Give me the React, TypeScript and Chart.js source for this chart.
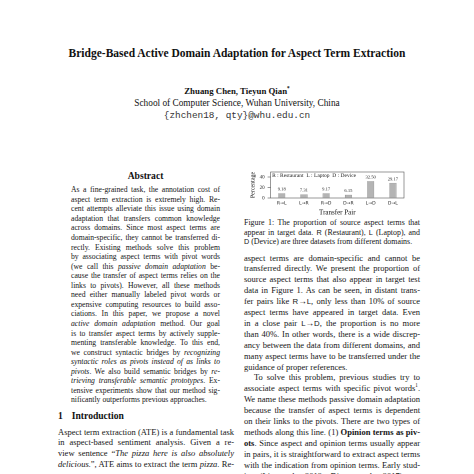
import Chart from 'chart.js/auto'
import React, { useEffect, useRef } from 'react'

// chart data (Figure 1)
const transferPairs = ['R→L', 'L→R', 'R→D', 'D→R', 'L→D', 'D→L']
const percentages = [9.18, 7.31, 9.17, 6.15, 32.5, 29.17]
const valueLabels = ['9.18', '7.31', '9.17', '6.15', '32.50', '29.17']
const yTicks = [0, 20, 40]
const yMax = 50
const legendNote = 'R : Restaurant  L : Laptop  D : Device'

const sf = (s: string) => `<span style="font-family:'Liberation Sans';font-size:0.92em">${s}</span>`

const abstractLines = [
  'As a fine-grained task, the annotation cost of',
  'aspect term extraction is extremely high. Re-',
  'cent attempts alleviate this issue using domain',
  'adaptation that transfers common knowledge',
  'across domains. Since most aspect terms are',
  'domain-specific, they cannot be transferred di-',
  'rectly. Existing methods solve this problem',
  'by associating aspect terms with pivot words',
  '(we call this <i>passive domain adaptation</i> be-',
  'cause the transfer of aspect terms relies on the',
  'links to pivots). However, all these methods',
  'need either manually labeled pivot words or',
  'expensive computing resources to build asso-',
  'ciations. In this paper, we propose a novel',
  '<i>active domain adaptation</i> method. Our goal',
  'is to transfer aspect terms by actively supple-',
  'menting transferable knowledge. To this end,',
  'we construct syntactic bridges by <i>recognizing</i>',
  '<i>syntactic roles as pivots instead of as links to</i>',
  '<i>pivots</i>. We also build semantic bridges by <i>re-</i>',
  '<i>trieving transferable semantic prototypes</i>. Ex-',
  'tensive experiments show that our method sig-',
  'nificantly outperforms previous approaches.',
]

const introLines = [
  'Aspect term extraction (ATE) is a fundamental task',
  'in aspect-based sentiment analysis. Given a re-',
  'view sentence “<i>The pizza here is also absolutely</i>',
  '<i>delicious.</i>”, ATE aims to extract the term <i>pizza</i>. Re-',
]

const captionLines = [
  'Figure 1: The proportion of source aspect terms that',
  `appear in target data. ${sf('R')} (Restaurant), ${sf('L')} (Laptop), and`,
  `${sf('D')} (Device) are three datasets from different domains.`,
]

const rightLines = [
  'aspect terms are domain-specific and cannot be',
  'transferred directly. We present the proportion of',
  'source aspect terms that also appear in target test',
  'data in Figure 1. As can be seen, in distant trans-',
  `fer pairs like ${sf('R')}→${sf('L')}, only less than 10% of source`,
  'aspect terms have appeared in target data. Even',
  `in a close pair ${sf('L')}→${sf('D')}, the proportion is no more`,
  'than 40%. In other words, there is a wide discrep-',
  'ancy between the data from different domains, and',
  'many aspect terms have to be transferred under the',
  'guidance of proper references.',
  'To solve this problem, previous studies try to',
  'associate aspect terms with specific pivot words<sup style="font-size:0.6em;line-height:0">1</sup>.',
  'We name these methods passive domain adaptation',
  'because the transfer of aspect terms is dependent',
  'on their links to the pivots. There are two types of',
  'methods along this line. (1) <b>Opinion terms as piv-</b>',
  '<b>ots</b>. Since aspect and opinion terms usually appear',
  'in pairs, it is straightforward to extract aspect terms',
  'with the indication from opinion terms. Early stud-',
  'ies (Li et al., 2012; Ding et al., 2017) use',
]

// lines that end a paragraph are not stretched
const lastLines = new Set([
  'nificantly outperforms previous approaches.',
  'guidance of proper references.',
  captionLines[2],
])

const serif = "'Liberation Serif', 'Times New Roman', serif"

const Line: React.FC<{ x: number; y: number; w: number; size: number; lh: number; html: string; indent?: number }> = ({ x, y, w, size, lh, html, indent = 0 }) => (
  <div
    style={{
      position: 'absolute',
      left: x + indent,
      top: y - lh / 2,
      width: w - indent,
      height: lh,
      lineHeight: `${lh}px`,
      fontSize: size,
      fontFamily: serif,
      color: '#151515',
      textAlign: 'justify',
      textAlignLast: lastLines.has(html) ? 'left' : 'justify',
      whiteSpace: 'normal',
    }}
    dangerouslySetInnerHTML={{ __html: html }}
  />
)

const annotate = {
  id: 'annotate',
  afterDatasetsDraw(chart: Chart) {
    const { ctx, chartArea } = chart
    ctx.save()
    ctx.strokeStyle = '#555'
    ctx.lineWidth = 0.6
    ctx.strokeRect(chartArea.left, chartArea.top, chartArea.right - chartArea.left, chartArea.bottom - chartArea.top)
    ctx.fillStyle = '#222'
    ctx.font = `5.5px ${serif}`
    ctx.textAlign = 'left'
    ctx.textBaseline = 'top'
    ctx.fillText(legendNote, chartArea.left + 1.5, chartArea.top + 1)
    ctx.font = `4.6px ${serif}`
    ctx.textAlign = 'center'
    ctx.textBaseline = 'bottom'
    chart.getDatasetMeta(0).data.forEach((bar, i) => {
      ctx.fillText(valueLabels[i], bar.x, bar.y - 1.5)
    })
    ctx.restore()
  },
}

const ProportionChart: React.FC = () => {
  const chartRef = useRef<HTMLCanvasElement>(null)
  const chartInstanceRef = useRef<Chart<'bar'> | null>(null)

  useEffect(() => {
    if (!chartRef.current) return
    chartInstanceRef.current = new Chart(chartRef.current, {
      type: 'bar',
      data: {
        labels: transferPairs,
        datasets: [
          {
            data: percentages,
            backgroundColor: '#b4b4b4',
            borderColor: '#8a8a8a',
            borderWidth: 0.6,
            barPercentage: 0.32,
            categoryPercentage: 1,
          },
        ],
      },
      options: {
        animation: false,
        responsive: true,
        maintainAspectRatio: false,
        devicePixelRatio: 2,
        layout: { padding: { left: 4.4, top: 7, right: 6, bottom: 0 } },
        plugins: { legend: { display: false }, tooltip: { enabled: false } },
        scales: {
          x: {
            grid: { display: false, drawTicks: false },
            border: { display: false },
            ticks: {
              font: { size: 4.6, family: "'DejaVu Sans', sans-serif", lineHeight: 1 },
              color: '#222',
              padding: 3,
              maxRotation: 0,
              autoSkip: false,
            },
            title: { display: true, text: 'Transfer Pair', font: { size: 7, family: serif }, color: '#111', padding: 0 },
          },
          y: {
            min: 0,
            max: yMax,
            afterBuildTicks: (axis) => {
              axis.ticks = yTicks.map((v) => ({ value: v }))
            },
            grid: { drawOnChartArea: false, tickLength: 3, color: '#555', lineWidth: 0.6 },
            border: { display: false },
            ticks: { font: { size: 5, family: serif }, color: '#222', padding: 3 },
            title: { display: true, text: 'Percentage', font: { size: 6, family: serif }, color: '#111', padding: 0 },
          },
        },
      },
      plugins: [annotate],
    })
    return () => {
      chartInstanceRef.current?.destroy()
    }
  }, [])

  return (
    <div style={{ position: 'absolute', left: 245, top: 165, width: 165, height: 52 }}>
      <canvas ref={chartRef} />
    </div>
  )
}

const App: React.FC = () => {
  const centered = (y: number, size: number, lh: number): React.CSSProperties => ({
    position: 'absolute',
    left: 0,
    width: 474,
    top: y - lh / 2,
    lineHeight: `${lh}px`,
    fontSize: size,
    textAlign: 'center',
    fontFamily: serif,
    color: '#111',
  })

  return (
    <div style={{ position: 'fixed', left: 0, top: 0, width: 474, height: 474, overflow: 'hidden', background: '#fff' }}>
      <div style={{ ...centered(53, 11.5, 14), fontWeight: 'bold' }}>Bridge-Based Active Domain Adaptation for Aspect Term Extraction</div>
      <div style={{ ...centered(91, 8.8, 11), fontWeight: 'bold' }}>
        Zhuang Chen, Tieyun Qian<sup style={{ fontSize: '0.6em', lineHeight: 0 }}>*</sup>
      </div>
      <div style={centered(103, 9.3, 11)}>School of Computer Science, Wuhan University, China</div>
      <div style={{ ...centered(115, 9.4, 11), fontFamily: "'Liberation Mono', monospace", color: '#333' }}>
        {'{zhchen18, qty}@whu.edu.cn'}
      </div>

      <div style={{ ...centered(175, 9.6, 11), left: 58, width: 175, fontWeight: 'bold' }}>Abstract</div>
      {abstractLines.map((t, i) => (
        <Line key={'a' + i} x={71} y={190 + i * 9.55} w={149} size={7.7} lh={9.5} html={t} />
      ))}

      <div style={{ position: 'absolute', left: 58, top: 416 - 6, lineHeight: '12px', fontSize: 9.6, fontWeight: 'bold', fontFamily: serif, color: '#111' }}>
        1<span style={{ marginLeft: 9 }}>Introduction</span>
      </div>
      {introLines.map((t, i) => (
        <Line key={'i' + i} x={58} y={432 + i * 10.9} w={176} size={8.5} lh={10.9} html={t} />
      ))}

      <ProportionChart />

      {captionLines.map((t, i) => (
        <Line key={'c' + i} x={244} y={223 + i * 9.6} w={176} size={7.9} lh={9.5} html={t} />
      ))}
      {rightLines.map((t, i) => (
        <Line key={'r' + i} x={244} y={258 + i * 10.9} w={176} size={8.5} lh={10.9} html={t} indent={i === 11 ? 10 : 0} />
      ))}
    </div>
  )
}

export default App
